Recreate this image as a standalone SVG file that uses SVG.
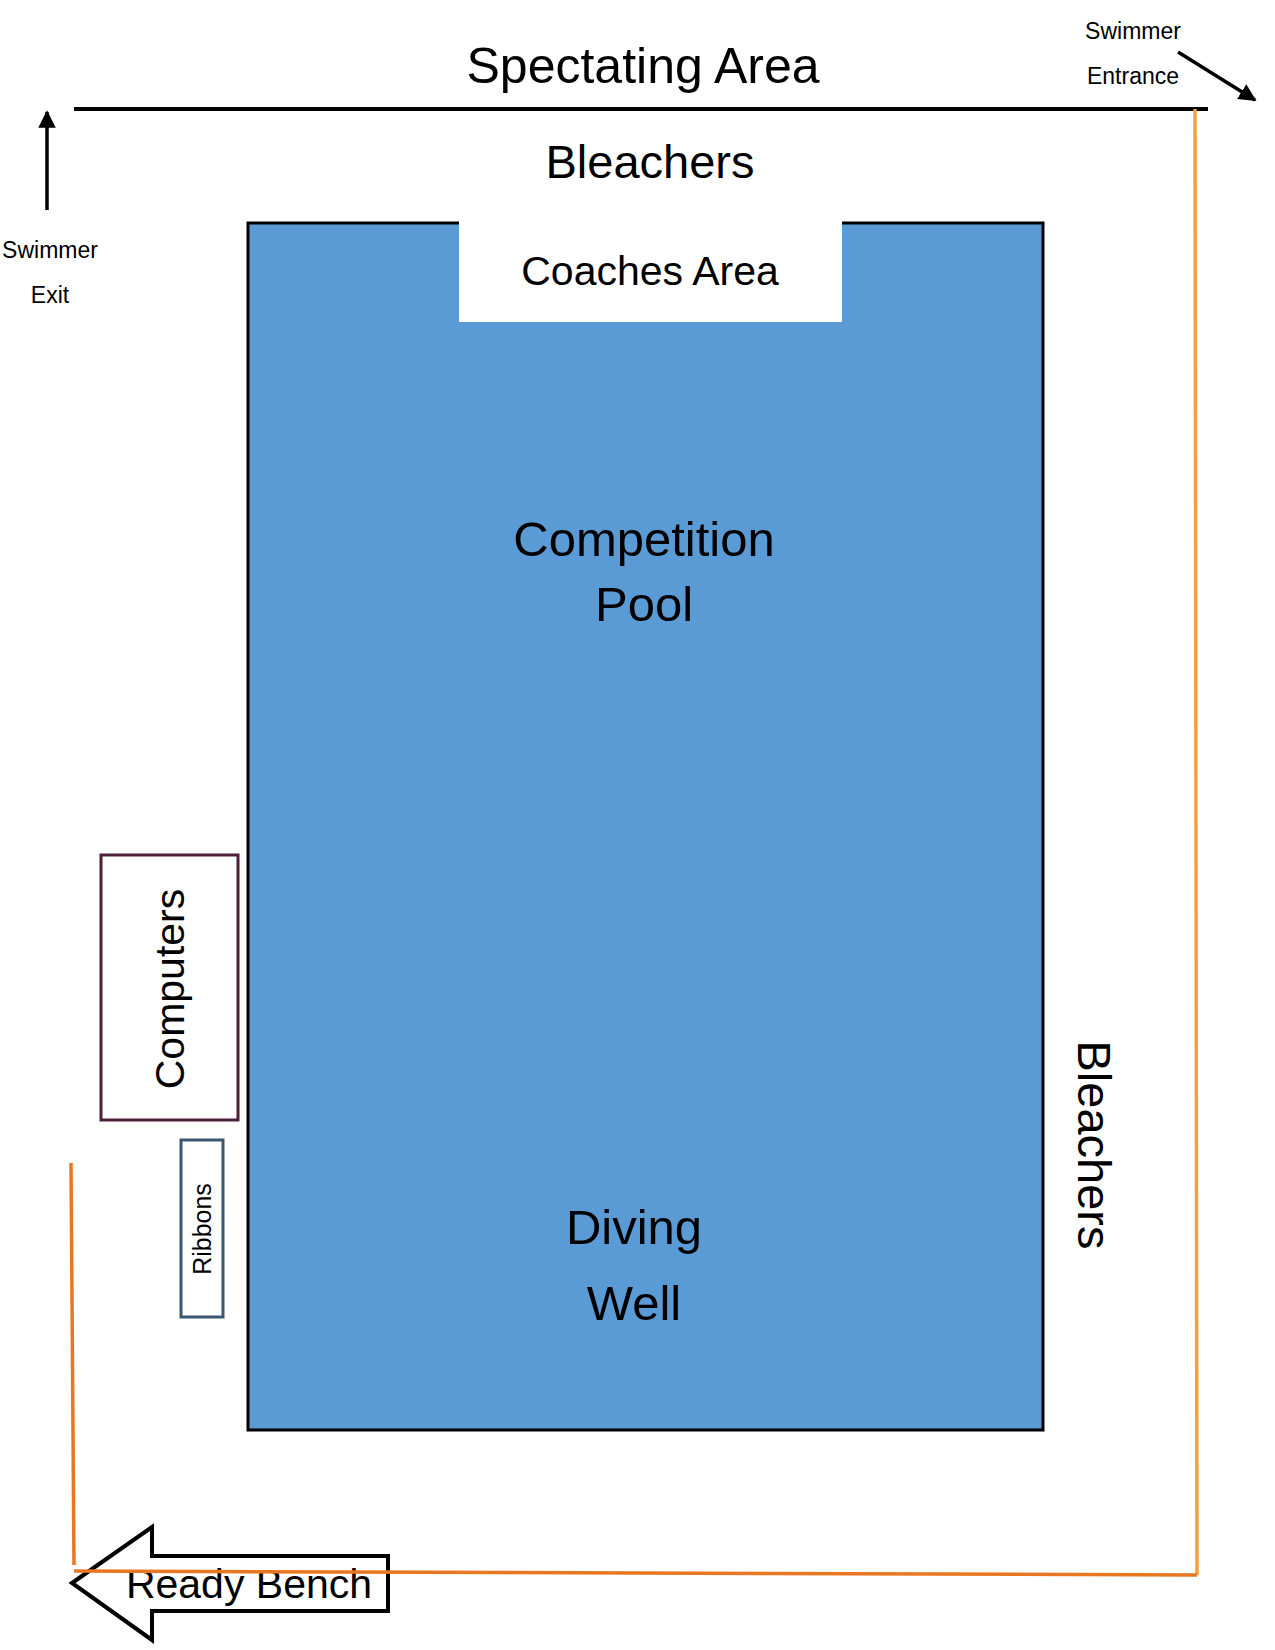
<svg xmlns="http://www.w3.org/2000/svg" width="1275" height="1650" viewBox="0 0 1275 1650">
<style>
text{font-family:"Liberation Sans",Arial,sans-serif;fill:#000;text-anchor:middle}
.big{font-size:49px}
.small{font-size:23px}
</style>
<defs>
<marker id="ah" viewBox="0 0 10 10" refX="9" refY="5" markerWidth="5" markerHeight="5" orient="auto"><path d="M0,0L10,5L0,10z" fill="#000"/></marker>
</defs>
<rect width="1275" height="1650" fill="#fff"/>
<g id="spectating"><line x1="74" y1="109" x2="1208" y2="109" stroke="#000" stroke-width="4"/><text x="643" y="83" font-size="50">Spectating Area</text></g>
<g id="bleachers-top"><text x="650" y="178" font-size="47">Bleachers</text></g>
<g id="pool"><rect x="248" y="223" width="795" height="1207" fill="#5B9BD5" stroke="#000" stroke-width="3"/>
<text class="big" x="644" y="556">Competition</text><text class="big" x="644" y="621">Pool</text>
<text class="big" x="634" y="1244">Diving</text><text class="big" x="634" y="1320">Well</text></g>
<g id="coaches"><rect x="459" y="220" width="383" height="102" fill="#fff"/><text x="650" y="285" font-size="41">Coaches Area</text></g>
<g id="computers"><rect x="101" y="855" width="137" height="265" fill="#fff" stroke="#4B2038" stroke-width="3"/><text x="0" y="0" font-size="41" transform="translate(184,989) rotate(-90)">Computers</text></g>
<g id="ribbons"><rect x="181" y="1140" width="42" height="177" fill="#fff" stroke="#3B5870" stroke-width="3"/><text x="0" y="0" font-size="25" transform="translate(211,1229) rotate(-90)">Ribbons</text></g>
<g id="bleachers-right"><text x="0" y="0" font-size="47" transform="translate(1078,1145) rotate(90)">Bleachers</text></g>
<g id="entrance"><text class="small" x="1133" y="39">Swimmer</text><text class="small" x="1133" y="84">Entrance</text></g>
<g id="exit"><text class="small" x="50" y="258">Swimmer</text><text class="small" x="50" y="303">Exit</text></g>
<g id="ready-bench"><path d="M72,1583 L152,1527 L152,1556 L388,1556 L388,1611 L152,1611 L152,1640 Z" fill="#fff" stroke="#000" stroke-width="4"/><text x="249" y="1598" font-size="41">Ready Bench</text></g>
<g id="connectors">
<line x1="1178" y1="52" x2="1255" y2="100" stroke="#000" stroke-width="3.5" marker-end="url(#ah)"/>
<line x1="47" y1="210" x2="47" y2="112" stroke="#000" stroke-width="3.5" marker-end="url(#ah)"/>
<line x1="1195" y1="109" x2="1197" y2="1575" stroke="#F4A040" stroke-width="3.5"/>
<line x1="71" y1="1163" x2="74" y2="1565" stroke="#E87722" stroke-width="3.5"/>
<line x1="74" y1="1571" x2="1197" y2="1575" stroke="#E87722" stroke-width="3.5"/>
</g>
</svg>
